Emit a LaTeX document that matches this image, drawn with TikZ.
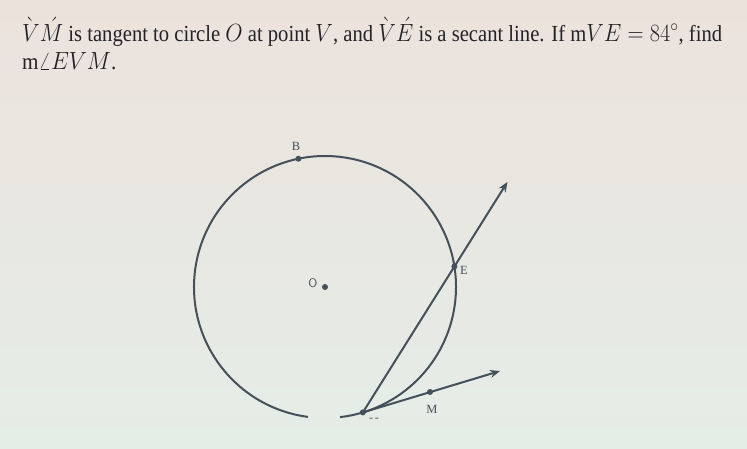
\documentclass[tikz,border=0pt]{standalone}
\usepackage{fontspec}
\setmainfont{Liberation Serif}
\usepackage{amsmath}
\usepackage{graphicx}
\usetikzlibrary{calc,arrows.meta}
\definecolor{bgtop}{RGB}{236,226,220}
\definecolor{bgbot}{RGB}{229,237,231}
\definecolor{ink}{RGB}{68,80,90}
\definecolor{txt}{RGB}{34,34,40}
\tikzset{
  geo/.style={draw=ink, line width=2pt},
  ray/.style={draw=ink, line width=2pt, -{Stealth[length=10pt,width=8pt]}},
  pt/.style={circle, fill=ink, inner sep=0pt, minimum size=6pt},
  lbl/.style={text=ink, font=\fontsize{12.5}{13}\selectfont, inner sep=0pt},
  qtext/.style={text=txt, anchor=base west, inner sep=0pt, font=\fontsize{23}{26}\selectfont}
}
\begin{document}
\begin{tikzpicture}[x=1pt,y=-1pt]
\shade[top color=bgtop, bottom color=bgbot] (0,0) rectangle (747,448);
\useasboundingbox (0,0) rectangle (747,448);
% question text
\node[qtext] (q1) at (22,41) {\scalebox{0.897}[1]{$\grave{V}\acute{M}$ is tangent to circle $O$ at point $V$, and $\grave{V}\acute{E}$ is a secant line. If m$VE=84^\circ$, find}};
\node[qtext] (q2) at (22,69) {\scalebox{0.92}[1]{m$\angle EVM$.}};
% geometry
\coordinate (O) at (325,287);
\draw[geo] ($(O)+(97.5:131)$) arc[start angle=97.5, end angle=443.4, radius=131];
\coordinate (V) at ($(O)+(73.2:131)$);
\coordinate (E) at ($(O)+(-9:131)$);
\coordinate (B) at ($(O)+(-101.7:131)$);
\coordinate (M) at (430,392);
\coordinate (Tend) at ($(V)!1.0!(500,371)$);
\coordinate (Send) at ($(V)!1.58!(E)$);
\draw[ray] (V) -- (Tend);
\draw[ray] (V) -- (Send);
\node[pt] (Vd) at (V) {};
\node[pt] (Ed) at (E) {};
\node[pt] (Bd) at (B) {};
\node[pt] (Md) at (M) {};
\node[pt] (Od) at (O) {};
\node[lbl] (Bl) at (296,146) {B};
\node[lbl, font=\sffamily\fontsize{12.5}{13}\selectfont] (Ol) at (313,283) {O};
\node[lbl] (El) at (464,270) {E};
\node[lbl] (Ml) at (432,409) {M};
\node[lbl, font=\fontsize{12}{12}\selectfont] (Vl) at (374,420) {-\hspace{2pt}-};
\end{tikzpicture}
\end{document}
